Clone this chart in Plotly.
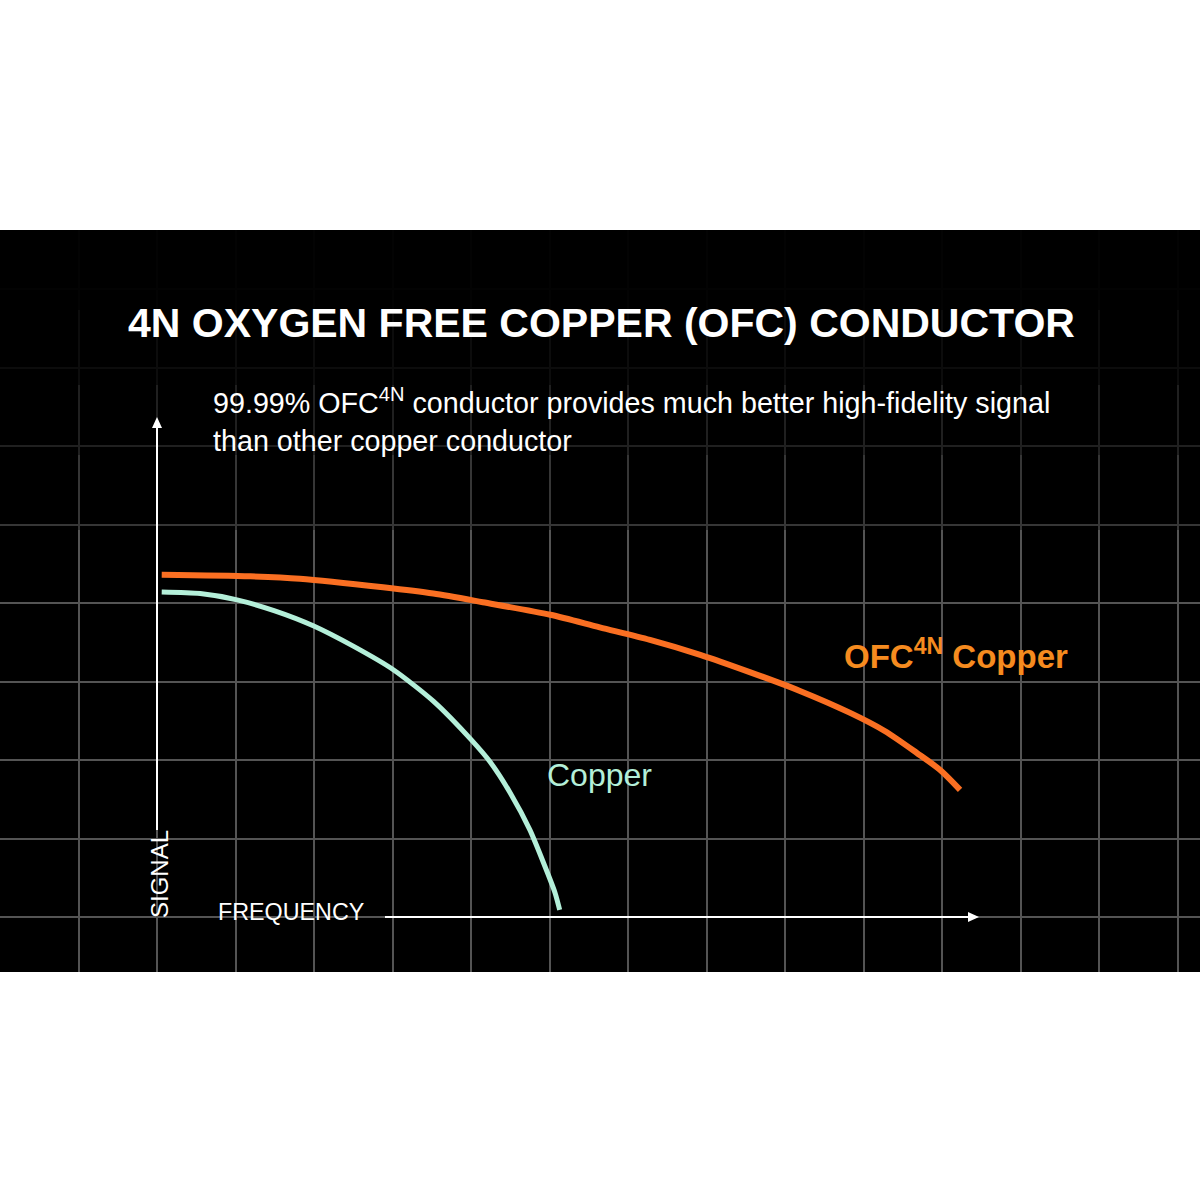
import plotly.graph_objects as go

# ---- data (grid units: x = frequency, y = signal) ----
ofc_freq = [0.06, 1.19, 1.82, 2.88, 3.52, 4.15, 5.01, 5.64, 6.28, 6.92, 7.55,
            8.19, 8.83, 9.27, 9.68, 9.98, 10.23]
ofc_signal = [4.36, 4.34, 4.31, 4.20, 4.12, 4.01, 3.85, 3.69, 3.53, 3.34, 3.12,
              2.88, 2.60, 2.37, 2.09, 1.87, 1.62]
cu_freq = [0.06, 0.55, 1.02, 1.50, 1.99, 2.50, 3.01, 3.52, 4.01, 4.24, 4.50,
           4.75, 4.94, 5.07, 5.13]
cu_signal = [4.14, 4.12, 4.04, 3.90, 3.71, 3.45, 3.15, 2.75, 2.25, 1.98, 1.58,
             1.11, 0.65, 0.31, 0.09]

title_text = "4N OXYGEN FREE COPPER (OFC) CONDUCTOR"
sub_line1 = "99.99% OFC<sup>4N</sup> conductor provides much better high-fidelity signal"
sub_line2 = "than other copper conductor"
ofc_label = "OFC<sup>4N</sup> Copper"
cu_label = "Copper"
x_label = "FREQUENCY"
y_label = "SIGNAL"

W = H = 1200
U = 78.5           # px per grid unit
OX, OY = 157, 917  # origin in px
BAND_TOP, BAND_BOT = 230, 972

def ux(px):
    return (px - OX) / U

def uy(py):
    return (OY - py) / U

ORANGE_LINE = "#FA6F22"
ORANGE_TEXT = "#F68B1F"
MINT = "#B4EFD9"
FONT = "Liberation Sans, Arial, sans-serif"

fig = go.Figure()
fig.add_trace(go.Scatter(x=ofc_freq, y=ofc_signal, mode="lines",
                         line=dict(color=ORANGE_LINE, width=6, shape="spline", smoothing=0.8),
                         hoverinfo="skip", showlegend=False))
fig.add_trace(go.Scatter(x=cu_freq, y=cu_signal, mode="lines",
                         line=dict(color=MINT, width=5, shape="spline", smoothing=0.7),
                         hoverinfo="skip", showlegend=False))

# fade the grid toward the top of the band
for bot_px, op in [(530, 0.35), (455, 0.4), (385, 0.6), (310, 0.7)]:
    fig.add_shape(type="rect", xref="x", yref="y", x0=ux(-5), x1=ux(1205),
                  y0=uy(bot_px), y1=uy(BAND_TOP - 5), fillcolor="black", opacity=op,
                  line=dict(width=0), layer="between")

# axis arrows (lines + triangular heads)
fig.add_shape(type="line", xref="x", yref="y", x0=0, x1=0, y0=uy(830), y1=uy(426),
              line=dict(color="white", width=2), layer="above")
fig.add_shape(type="path", xref="x", yref="y", fillcolor="white", line=dict(width=0),
              path=f"M {ux(152)} {uy(428)} L {ux(157)} {uy(417)} L {ux(162)} {uy(428)} Z",
              layer="above")
fig.add_shape(type="line", xref="x", yref="y", x0=ux(385), x1=ux(970), y0=0, y1=0,
              line=dict(color="white", width=2), layer="above")
fig.add_shape(type="path", xref="x", yref="y", fillcolor="white", line=dict(width=0),
              path=f"M {ux(968)} {uy(912)} L {ux(979)} {uy(917)} L {ux(968)} {uy(922)} Z",
              layer="above")

def pxp(px):
    return px / W

def pyp(py):
    return 1 - py / H

ann = []
ann.append(dict(text=f"<b>{title_text}</b>", x=pxp(601), y=pyp(323), xref="paper", yref="paper",
                xanchor="center", yanchor="middle", showarrow=False,
                font=dict(family=FONT, size=41, color="white")))
ann.append(dict(text=sub_line1, x=pxp(211), y=pyp(401), xref="paper", yref="paper",
                xanchor="left", yanchor="middle", showarrow=False,
                font=dict(family=FONT, size=28.7, color="white")))
ann.append(dict(text=sub_line2, x=pxp(211), y=pyp(441), xref="paper", yref="paper",
                xanchor="left", yanchor="middle", showarrow=False,
                font=dict(family=FONT, size=28.7, color="white")))
ann.append(dict(text=f"<b>{ofc_label}</b>", x=pxp(842), y=pyp(654), xref="paper", yref="paper",
                xanchor="left", yanchor="middle", showarrow=False,
                font=dict(family=FONT, size=33, color=ORANGE_TEXT)))
ann.append(dict(text=cu_label, x=pxp(599), y=pyp(775), xref="paper", yref="paper",
                xanchor="center", yanchor="middle", showarrow=False,
                font=dict(family=FONT, size=32, color=MINT)))
ann.append(dict(text=x_label, x=pxp(216), y=pyp(912), xref="paper", yref="paper",
                xanchor="left", yanchor="middle", showarrow=False,
                font=dict(family=FONT, size=23.3, color="white")))
ann.append(dict(text=y_label, x=pxp(159), y=pyp(874), xref="paper", yref="paper",
                xanchor="center", yanchor="middle", showarrow=False, textangle=-90,
                font=dict(family=FONT, size=24, color="white")))

fig.update_layout(
    width=W, height=H, autosize=False,
    margin=dict(l=0, r=0, t=0, b=0, pad=0),
    paper_bgcolor="white", plot_bgcolor="black",
    annotations=ann,
    xaxis=dict(range=[ux(0), ux(W)], domain=[0, 1], showgrid=True, dtick=1, tick0=0,
               gridcolor="#545454", gridwidth=1.5, zeroline=False, showticklabels=False,
               ticks="", showline=False, fixedrange=True),
    yaxis=dict(range=[uy(BAND_BOT), uy(BAND_TOP)], domain=[1 - BAND_BOT / H, 1 - BAND_TOP / H],
               showgrid=True, dtick=1, tick0=0,
               gridcolor="#545454", gridwidth=1.5, zeroline=False, showticklabels=False,
               ticks="", showline=False, fixedrange=True),
)

fig.write_html("out.html", config={"displayModeBar": False},
               post_script="document.body.style.margin='0';document.body.style.overflow='hidden';")
